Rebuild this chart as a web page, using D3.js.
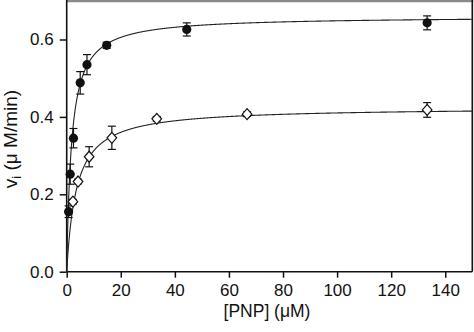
<!DOCTYPE html>
<html>
<head>
<meta charset="utf-8">
<script src="https://cdn.jsdelivr.net/npm/d3@7/dist/d3.min.js"></script>
<style>
  html, body { margin: 0; padding: 0; background: #fff; }
  svg { display: block; }
  text { font-family: "Liberation Sans", Arial, Helvetica, sans-serif; fill: #111; }
</style>
</head>
<body>
<svg id="chart" width="474" height="332"></svg>
<script>
// [PNP] concentrations (µM) and initial velocities (µM/min)
const filledX   = [0.7, 1.3, 2.5, 5.0, 7.5, 14.8, 44.4, 133.3];
const filledY   = [0.155, 0.252, 0.345, 0.488, 0.535, 0.585, 0.626, 0.643];
const filledErr = [0.015, 0.026, 0.025, 0.029, 0.026, 0.008, 0.017, 0.018];

const openX   = [2.3, 4.2, 8.3, 16.7, 33.3, 66.7, 133.3];
const openY   = [0.181, 0.233, 0.297, 0.346, 0.395, 0.407, 0.418];
const openErr = [0.006, 0.006, 0.026, 0.030, 0.006, 0.006, 0.019];

// Michaelis–Menten fit parameters [Vmax, Km]
const filledFit = [0.66, 1.8];
const openFit   = [0.425, 3.6];

const xTicks = [0, 20, 40, 60, 80, 100, 120, 140];
const yTicks = [0.0, 0.2, 0.4, 0.6];

const svg = d3.select("#chart");
const mLeft = 66.7, mRight = 472.3, mTop = 0.8, mBottom = 271.7;

const x = d3.scaleLinear().domain([0, 150]).range([mLeft, mRight]);
const y = d3.scaleLinear().domain([0, 0.7]).range([mBottom, mTop]);

// frame: grey top edge, black right edge
svg.append("line").attr("x1", mLeft).attr("x2", mRight + 1).attr("y1", 0.8).attr("y2", 0.8)
  .attr("stroke", "#8a8a8a").attr("stroke-width", 3);
svg.append("line").attr("x1", mRight).attr("x2", mRight).attr("y1", 0).attr("y2", mBottom)
  .attr("stroke", "#111").attr("stroke-width", 1.6);

// axes
const xAxis = svg.append("g").attr("transform", `translate(0,${mBottom})`)
  .call(d3.axisBottom(x).tickValues(xTicks).tickSize(6).tickPadding(6).tickFormat(d3.format("d")));
const yAxis = svg.append("g").attr("transform", `translate(${mLeft},0)`)
  .call(d3.axisLeft(y).tickValues(yTicks).tickSize(7).tickPadding(6).tickFormat(d3.format(".1f")));
[xAxis, yAxis].forEach(g => {
  g.select(".domain").attr("stroke", "#111").attr("stroke-width", 1.6);
  g.selectAll(".tick line").attr("stroke", "#111").attr("stroke-width", 1.5);
  g.selectAll(".tick text").style("font-size", "17px").attr("fill", "#111")
    .style("font-family", "'Liberation Sans', Arial, sans-serif");
});
xAxis.select(".domain").attr("d", `M${mLeft},0H${mRight}`);
yAxis.select(".domain").attr("d", `M0,${mBottom}V0`);

// axis titles
svg.append("text").attr("x", 267).attr("y", 317).attr("text-anchor", "middle")
  .style("font-size", "17.5px").text("[PNP] (μM)");
const yt = svg.append("text").attr("transform", "translate(17,139) rotate(-90)")
  .attr("text-anchor", "middle").style("font-size", "19px");
yt.append("tspan").text("v");
yt.append("tspan").attr("dy", 4).style("font-size", "13px").text("i");
yt.append("tspan").attr("dy", -4).text(" (μ M/min)");

// fitted curves
const mm = ([vmax, km]) => s => vmax * s / (km + s);
const curveXs = d3.range(0, 150.01, 0.05);
const line = d3.line().x(d => x(d[0])).y(d => y(d[1]));
[filledFit, openFit].forEach(p => {
  const f = mm(p);
  svg.append("path").datum(curveXs.map(s => [s, f(s)]))
    .attr("d", line).attr("fill", "none").attr("stroke", "#222").attr("stroke-width", 1.1);
});

// error bars
function errorBars(xs, ys, es) {
  const g = svg.append("g").attr("stroke", "#111").attr("stroke-width", 1.2);
  xs.forEach((xv, i) => {
    const cx = x(xv), y1 = y(ys[i] + es[i]), y2 = y(ys[i] - es[i]);
    g.append("line").attr("x1", cx).attr("x2", cx).attr("y1", y1).attr("y2", y2);
    g.append("line").attr("x1", cx - 4).attr("x2", cx + 4).attr("y1", y1).attr("y2", y1);
    g.append("line").attr("x1", cx - 4).attr("x2", cx + 4).attr("y1", y2).attr("y2", y2);
  });
}
errorBars(openX, openY, openErr);
errorBars(filledX, filledY, filledErr);

// open diamonds
svg.append("g").selectAll("path").data(openX).join("path")
  .attr("d", (d, i) => {
    const cx = x(d), cy = y(openY[i]);
    return `M${cx},${cy - 5.5}L${cx + 4.8},${cy}L${cx},${cy + 5.5}L${cx - 4.8},${cy}Z`;
  })
  .attr("fill", "#fff").attr("stroke", "#111").attr("stroke-width", 1.2);

// filled circles
svg.append("g").selectAll("circle").data(filledX).join("circle")
  .attr("cx", d => x(d)).attr("cy", (d, i) => y(filledY[i])).attr("r", 4.6)
  .attr("fill", "#111");
</script>
</body>
</html>
